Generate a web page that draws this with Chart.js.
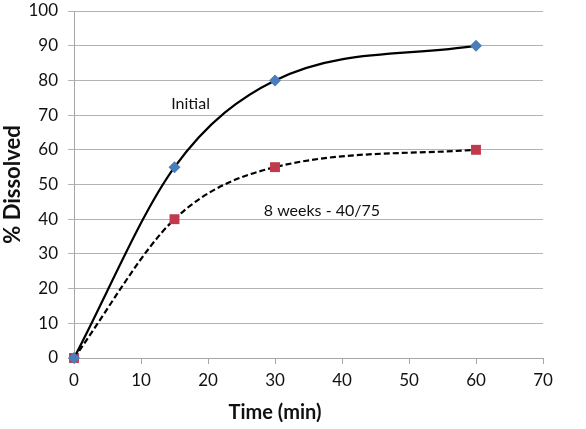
<!DOCTYPE html>
<html>
<head>
<meta charset="utf-8">
<script src="https://cdn.jsdelivr.net/npm/chart.js@4"></script>
<style>
  html, body { margin: 0; padding: 0; background: #fff; }
  #wrap { width: 586px; height: 429px; }
</style>
</head>
<body>
<div id="wrap"><canvas id="myChart" width="586" height="429"></canvas></div>
<script>
// time points (min) and % dissolved
const times = [0, 15, 30, 60];
const initialValues = [0, 55, 80, 90];
const weeks8Values = [0, 40, 55, 60];
const seriesNames = ['Initial', '8 weeks - 40/75'];
const xTitle = 'Time (min)';

// text labels placed in data units
const notes = [
  { text: 'Initial', x: 17.4, y: 73.3 },
  { text: '8 weeks - 40/75', x: 37, y: 42.5 }
];

const FONT = 'Lato, "Open Sans", sans-serif';

const toPoints = vals => times.map((t, i) => ({ x: t, y: vals[i] }));

const notePlugin = {
  id: 'notes',
  afterDatasetsDraw(chart) {
    const c = chart.ctx;
    const xs = chart.scales.x, ys = chart.scales.y;
    c.save();
    c.font = '16px ' + FONT;
    c.fillStyle = '#111';
    c.textAlign = 'center';
    c.textBaseline = 'middle';
    notes.forEach(n => {
      c.fillText(n.text, xs.getPixelForValue(n.x), ys.getPixelForValue(n.y));
    });
    // x axis title, centred under 30 min like the original
    c.font = 'bold 20px ' + FONT;
    c.fillText(xTitle, xs.getPixelForValue(30), 413);
    c.restore();
  }
};

const ctx = document.getElementById('myChart').getContext('2d');
new Chart(ctx, {
  type: 'scatter',
  data: {
    datasets: [
      {
        label: seriesNames[0],
        data: toPoints(initialValues),
        showLine: true,
        clip: false,
        borderColor: '#000',
        borderWidth: 2.2,
        cubicInterpolationMode: 'monotone',
        pointStyle: 'rectRot',
        pointRadius: 6,
        pointBackgroundColor: '#4a7ebb',
        pointBorderColor: '#4a7ebb',
        pointBorderWidth: 0
      },
      {
        label: seriesNames[1],
        data: toPoints(weeks8Values),
        showLine: true,
        clip: false,
        borderColor: '#000',
        borderWidth: 2.2,
        borderDash: [6, 3],
        cubicInterpolationMode: 'monotone',
        pointStyle: 'rect',
        pointRadius: 7,
        pointBackgroundColor: '#c0394d',
        pointBorderColor: '#c0394d',
        pointBorderWidth: 0
      }
    ]
  },
  options: {
    responsive: false,
    animation: false,
    layout: { padding: { top: 11, right: 43, left: 0, bottom: 0 } },
    plugins: {
      legend: { display: false },
      tooltip: { enabled: false }
    },
    scales: {
      x: {
        type: 'linear',
        min: 0,
        max: 70,
        ticks: { stepSize: 10, color: '#111', font: { family: FONT, size: 17 }, padding: 6 },
        grid: { drawOnChartArea: false, color: '#a6a6a6', tickLength: 6 },
        border: { color: '#a6a6a6' },
        afterFit(scale) { scale.height = 71; scale.paddingLeft = 0; scale.paddingRight = 0; }
      },
      y: {
        min: 0,
        max: 100,
        ticks: { stepSize: 10, color: '#111', font: { family: FONT, size: 17 }, padding: 10 },
        grid: { color: '#b3b3b3', tickLength: 6 },
        border: { color: '#a6a6a6' },
        title: { display: true, text: '% Dissolved', color: '#111', font: { family: FONT, size: 22, weight: 'bold' }, padding: 0 },
        afterFit(scale) { scale.width = 74; scale.paddingTop = 0; scale.paddingBottom = 0; }
      }
    }
  },
  plugins: [notePlugin]
});
</script>
</body>
</html>
